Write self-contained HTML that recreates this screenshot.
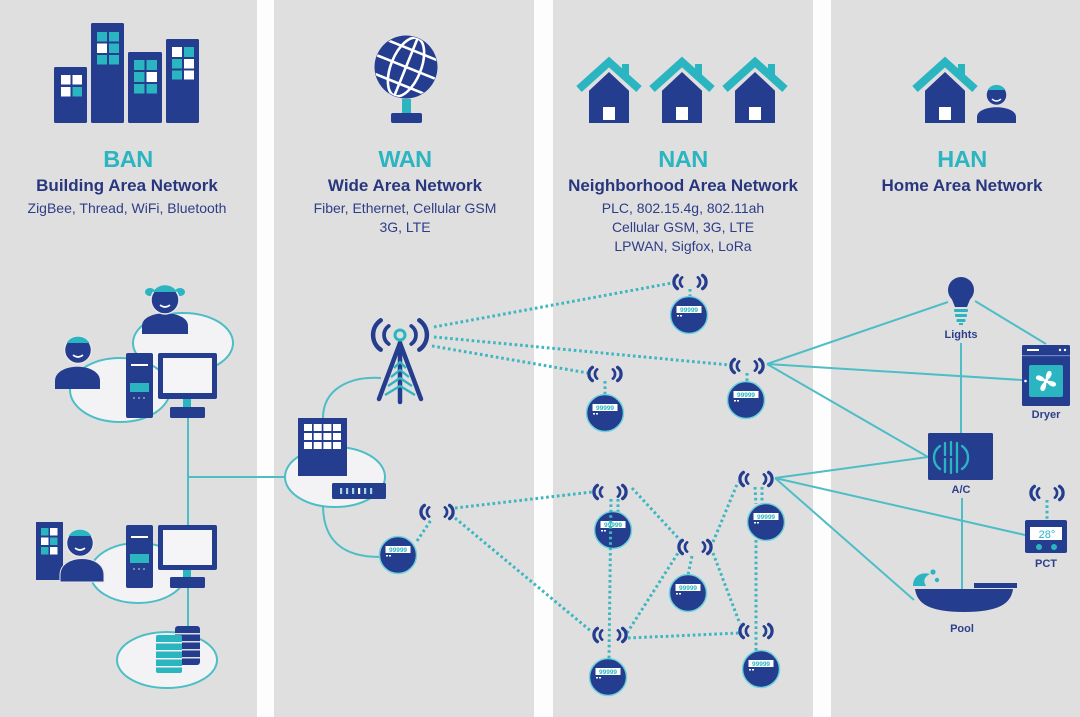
<!DOCTYPE html>
<html><head><meta charset="utf-8">
<style>
html,body{margin:0;padding:0;background:#fff;}
svg{display:block;}
text{font-family:"Liberation Sans",sans-serif;}
</style></head>
<body>
<svg width="1080" height="717" viewBox="0 0 1080 717" xmlns="http://www.w3.org/2000/svg">
<rect x="0" y="0" width="1080" height="717" fill="#fdfdfd"/>
<rect x="0" y="0" width="257" height="717" fill="#e0dfe0"/>
<rect x="274" y="0" width="260" height="717" fill="#e0dfe0"/>
<rect x="553" y="0" width="260" height="717" fill="#e0dfe0"/>
<rect x="831" y="0" width="249" height="717" fill="#e0dfe0"/>

<!-- ===== HEADERS ===== -->
<!-- BAN buildings -->
<g fill="#243d8f">
<rect x="54" y="67" width="33" height="56" rx="1.5"/>
<rect x="91" y="23" width="33" height="100" rx="1.5"/>
<rect x="128" y="52" width="34" height="71" rx="1.5"/>
<rect x="166" y="39" width="33" height="84" rx="1.5"/>
</g>
<g>
<rect x="61" y="75" width="9.5" height="9.5" fill="#fff"/><rect x="72.5" y="75" width="9.5" height="9.5" fill="#fff"/>
<rect x="61" y="87" width="9.5" height="9.5" fill="#fff"/><rect x="72.5" y="87" width="9.5" height="9.5" fill="#2bb5c1"/>
<rect x="97" y="32" width="10" height="9.5" fill="#2bb5c1"/><rect x="109" y="32" width="10" height="9.5" fill="#2bb5c1"/>
<rect x="97" y="43.5" width="10" height="9.5" fill="#fff"/><rect x="109" y="43.5" width="10" height="9.5" fill="#2bb5c1"/>
<rect x="97" y="55" width="10" height="9.5" fill="#2bb5c1"/><rect x="109" y="55" width="10" height="9.5" fill="#2bb5c1"/>
<rect x="134" y="60" width="10.5" height="10" fill="#2bb5c1"/><rect x="146.5" y="60" width="10.5" height="10" fill="#2bb5c1"/>
<rect x="134" y="72" width="10.5" height="10" fill="#2bb5c1"/><rect x="146.5" y="72" width="10.5" height="10" fill="#fff"/>
<rect x="134" y="84" width="10.5" height="9.5" fill="#2bb5c1"/><rect x="146.5" y="84" width="10.5" height="9.5" fill="#2bb5c1"/>
<rect x="172" y="47" width="10" height="10" fill="#fff"/><rect x="184" y="47" width="10" height="10" fill="#2bb5c1"/>
<rect x="172" y="59" width="10" height="9.5" fill="#2bb5c1"/><rect x="184" y="59" width="10" height="9.5" fill="#fff"/>
<rect x="172" y="70.5" width="10" height="9" fill="#2bb5c1"/><rect x="184" y="70.5" width="10" height="9" fill="#fff"/>
</g>

<!-- WAN globe -->
<defs><clipPath id="gc"><circle cx="406" cy="67" r="31"/></clipPath></defs>
<circle cx="406" cy="67" r="31.5" fill="#243d8f"/>
<g clip-path="url(#gc)" stroke="#fff" stroke-width="2.6" fill="none">
<g transform="rotate(22 406 67)">
<ellipse cx="406" cy="67" rx="15" ry="31"/>
<line x1="406" y1="34" x2="406" y2="100"/>
<line x1="370" y1="49" x2="442" y2="49"/>
<line x1="370" y1="67" x2="442" y2="67"/>
<line x1="370" y1="85" x2="442" y2="85"/>
</g>
</g>
<rect x="402" y="99" width="9" height="15" fill="#2bb5c1"/>
<rect x="391" y="113" width="31" height="10" rx="2" fill="#243d8f"/>

<!-- NAN houses -->
<g id="h1">
<polyline points="579,89 609,62 639,89" fill="none" stroke="#2bb5c1" stroke-width="8" stroke-linejoin="miter"/>
<rect x="622" y="64" width="7" height="14" fill="#2bb5c1"/>
<polygon points="589,123 589,90.7 609,72 629,90.7 629,123" fill="#243d8f"/>
<rect x="603" y="107" width="12" height="13" fill="#fff"/>
</g>
<g>
<polyline points="652,89 682,62 712,89" fill="none" stroke="#2bb5c1" stroke-width="8"/>
<rect x="695" y="64" width="7" height="14" fill="#2bb5c1"/>
<polygon points="662,123 662,90.7 682,72 702,90.7 702,123" fill="#243d8f"/>
<rect x="676" y="107" width="12" height="13" fill="#fff"/>
</g>
<g>
<polyline points="725,89 755,62 785,89" fill="none" stroke="#2bb5c1" stroke-width="8"/>
<rect x="768" y="64" width="7" height="14" fill="#2bb5c1"/>
<polygon points="735,123 735,90.7 755,72 775,90.7 775,123" fill="#243d8f"/>
<rect x="749" y="107" width="12" height="13" fill="#fff"/>
</g>
<!-- HAN house + person -->
<g>
<polyline points="915,89 945,62 975,89" fill="none" stroke="#2bb5c1" stroke-width="8"/>
<rect x="958" y="64" width="7" height="14" fill="#2bb5c1"/>
<polygon points="925,123 925,90.7 945,72 965,90.7 965,123" fill="#243d8f"/>
<rect x="939" y="107" width="12" height="13" fill="#fff"/>
</g>
<path d="M977,123 L977,117 C977,104 1016,104 1016,117 L1016,123 Z" fill="#243d8f"/>
<circle cx="996.5" cy="95" r="10.5" fill="#243d8f" stroke="#e0dfe0" stroke-width="1.5"/>
<path d="M987.5,90 A10.5,10.5 0 0 1 1005.5,90 Z" fill="#2bb5c1"/>
<path d="M992,99 Q996.5,103 1001,99" fill="none" stroke="#fff" stroke-width="1.5"/>

<!-- Header text -->
<g text-anchor="middle">
<text x="128" y="167" font-size="23.5" font-weight="bold" fill="#2bb5c1" letter-spacing="-0.5">BAN</text>
<text x="127" y="191" font-size="17" font-weight="bold" fill="#28377d">Building Area Network</text>
<text x="127" y="213" font-size="14" fill="#2e3d85">ZigBee, Thread, WiFi, Bluetooth</text>

<text x="405" y="167" font-size="23.5" font-weight="bold" fill="#2bb5c1" letter-spacing="-0.5">WAN</text>
<text x="405" y="191" font-size="17" font-weight="bold" fill="#28377d">Wide Area Network</text>
<text x="405" y="213" font-size="14" fill="#2e3d85">Fiber, Ethernet, Cellular GSM</text>
<text x="405" y="232" font-size="14" fill="#2e3d85">3G, LTE</text>

<text x="683" y="167" font-size="23.5" font-weight="bold" fill="#2bb5c1" letter-spacing="-0.5">NAN</text>
<text x="683" y="191" font-size="17" font-weight="bold" fill="#28377d">Neighborhood Area Network</text>
<text x="683" y="213" font-size="14" fill="#2e3d85">PLC, 802.15.4g, 802.11ah</text>
<text x="683" y="232" font-size="14" fill="#2e3d85">Cellular GSM, 3G, LTE</text>
<text x="683" y="251" font-size="14" fill="#2e3d85">LPWAN, Sigfox, LoRa</text>

<text x="962" y="167" font-size="23.5" font-weight="bold" fill="#2bb5c1" letter-spacing="-0.5">HAN</text>
<text x="962" y="191" font-size="17" font-weight="bold" fill="#28377d">Home Area Network</text>
</g>

<!-- ===== BAN diagram ===== -->
<g stroke="#4dbdc6" stroke-width="2" fill="none">
<line x1="188" y1="418" x2="188" y2="525"/>
<line x1="188" y1="477" x2="286" y2="477"/>
<line x1="188" y1="588" x2="188" y2="628"/>
</g>
<g fill="#f3f3f5" stroke="#4dbdc6" stroke-width="2">
<ellipse cx="183" cy="343" rx="50" ry="30"/>
<ellipse cx="120" cy="390" rx="50" ry="32"/>
<ellipse cx="138" cy="573" rx="48" ry="30"/>
<ellipse cx="167" cy="660" rx="50" ry="28"/>
</g>
<!-- girl top -->
<path d="M142,334 L142,326 C142,309 188,309 188,326 L188,334 Z" fill="#243d8f"/>
<ellipse cx="150" cy="292" rx="5" ry="4" fill="#2bb5c1"/>
<ellipse cx="180" cy="292" rx="5" ry="4" fill="#2bb5c1"/>
<circle cx="165" cy="300" r="14" fill="#243d8f" stroke="#e8e8ea" stroke-width="1.5"/>
<path d="M153,292 A14,14 0 0 1 177,292 Z" fill="#2bb5c1"/>
<path d="M160,305 Q165,309 170,305" fill="none" stroke="#fff" stroke-width="1.6"/>
<!-- person left -->
<path d="M55,389 L55,381 C55,362 100,362 100,381 L100,389 Z" fill="#243d8f"/>
<circle cx="78" cy="350" r="13.5" fill="#243d8f" stroke="#e8e8ea" stroke-width="1.5"/>
<path d="M66.5,343 A13.5,13.5 0 0 1 89.5,343 Z" fill="#2bb5c1"/>
<path d="M73,355 Q78,359 83,355" fill="none" stroke="#fff" stroke-width="1.6"/>
<!-- computer top -->
<rect x="126" y="353" width="27" height="65" rx="2" fill="#243d8f"/>
<rect x="131" y="364" width="17" height="2" fill="#fff"/>
<rect x="130" y="383" width="19" height="9" fill="#2bb5c1"/>
<g fill="#8ab"><circle cx="134" cy="398" r="1"/><circle cx="139" cy="398" r="1"/><circle cx="144" cy="398" r="1"/></g>
<rect x="158" y="353" width="59" height="46" rx="2" fill="#243d8f"/>
<rect x="163" y="358" width="49" height="35" fill="#f5f5f7"/>
<rect x="183" y="399" width="8" height="8" fill="#2bb5c1"/>
<rect x="170" y="407" width="35" height="11" rx="1.5" fill="#243d8f"/>
<!-- lower group -->
<rect x="36" y="522" width="27" height="58" fill="#243d8f"/>
<rect x="41" y="528" width="7.5" height="7.5" fill="#2bb5c1"/><rect x="50" y="528" width="7.5" height="7.5" fill="#fff"/>
<rect x="41" y="537.5" width="7.5" height="7.5" fill="#fff"/><rect x="50" y="537.5" width="7.5" height="7.5" fill="#2bb5c1"/>
<rect x="41" y="547" width="7.5" height="7.5" fill="#2bb5c1"/><rect x="50" y="547" width="7.5" height="7.5" fill="#fff"/>
<path d="M60,582 L60,575 C60,553 104,553 104,575 L104,582 Z" fill="#243d8f" stroke="#e8e8ea" stroke-width="1"/>
<circle cx="80" cy="543" r="13.5" fill="#243d8f" stroke="#e8e8ea" stroke-width="1.5"/>
<path d="M68.5,536 A13.5,13.5 0 0 1 91.5,536 Z" fill="#2bb5c1"/>
<path d="M75,548 Q80,552 85,548" fill="none" stroke="#fff" stroke-width="1.6"/>
<rect x="126" y="525" width="27" height="63" rx="2" fill="#243d8f"/>
<rect x="131" y="536" width="17" height="2" fill="#fff"/>
<rect x="130" y="554" width="19" height="9" fill="#2bb5c1"/>
<g fill="#8ab"><circle cx="134" cy="569" r="1"/><circle cx="139" cy="569" r="1"/><circle cx="144" cy="569" r="1"/></g>
<rect x="158" y="525" width="59" height="45" rx="2" fill="#243d8f"/>
<rect x="163" y="530" width="49" height="35" fill="#f5f5f7"/>
<rect x="183" y="570" width="8" height="7" fill="#2bb5c1"/>
<rect x="170" y="577" width="35" height="11" rx="1.5" fill="#243d8f"/>
<!-- servers -->
<rect x="175" y="626" width="25" height="39" rx="3" fill="#243d8f"/>
<g fill="#e0dfe0"><rect x="175" y="633" width="25" height="1.5"/><rect x="175" y="641" width="25" height="1.5"/><rect x="175" y="649" width="25" height="1.5"/><rect x="175" y="657" width="25" height="1.5"/></g>
<rect x="156" y="635" width="26" height="38" rx="2" fill="#2bb5c1"/>
<g fill="#f3f3f5"><rect x="156" y="642" width="26" height="1.5"/><rect x="156" y="650" width="26" height="1.5"/><rect x="156" y="658" width="26" height="1.5"/><rect x="156" y="666" width="26" height="1.5"/></g>

<!-- ===== WAN diagram ===== -->
<g stroke="#4dbdc6" stroke-width="2" fill="none">
<path d="M381,378 C348,376 323,390 323,418"/>
<path d="M323,505 C323,540 342,557 380,557"/>
</g>
<ellipse cx="335" cy="477" rx="50" ry="30" fill="#f3f3f5" stroke="#4dbdc6" stroke-width="2"/>
<rect x="298" y="418" width="49" height="58" fill="#243d8f"/>
<g fill="#fff">
<rect x="304" y="424" width="8" height="7"/><rect x="313.7" y="424" width="8" height="7"/><rect x="323.4" y="424" width="8" height="7"/><rect x="333" y="424" width="8" height="7"/>
<rect x="304" y="433" width="8" height="7"/><rect x="313.7" y="433" width="8" height="7"/><rect x="323.4" y="433" width="8" height="7"/><rect x="333" y="433" width="8" height="7"/>
<rect x="304" y="442" width="8" height="7"/><rect x="313.7" y="442" width="8" height="7"/><rect x="323.4" y="442" width="8" height="7"/><rect x="333" y="442" width="8" height="7"/>
</g>
<rect x="332" y="483" width="54" height="16" rx="1.5" fill="#243d8f"/>
<g fill="#9fd8e0"><rect x="340" y="488" width="2.2" height="6"/><rect x="346" y="488" width="2.2" height="6"/><rect x="352" y="488" width="2.2" height="6"/><rect x="358" y="488" width="2.2" height="6" fill="#fff"/><rect x="364" y="488" width="2.2" height="6"/><rect x="370" y="488" width="2.2" height="6"/></g>

<!-- Tower -->
<g stroke="#243d8f" stroke-width="4.5" stroke-linecap="round" fill="none">
<line x1="400" y1="343" x2="379" y2="399"/>
<line x1="400" y1="343" x2="421" y2="399"/>
<line x1="400" y1="343" x2="400" y2="402"/>
</g>
<g stroke="#2bb5c1" stroke-width="2.3" fill="none">
<polyline points="394,368 400,362 406,368"/>
<polyline points="391,377 400,370 409,377"/>
<polyline points="388,386 400,378 412,386"/>
<polyline points="385,395 400,386 415,395"/>
</g>
<circle cx="400" cy="335" r="5" fill="#e0dfe0" stroke="#2bb5c1" stroke-width="3"/>
<g transform="translate(400,335)" fill="none" stroke="#243d8f" stroke-linecap="round">
<path d="M-19.3,-14.7 A18,18 0 0 0 -19.3,14.7" stroke-width="4.5"/>
<path d="M-11.3,-9 A11,11 0 0 0 -11.3,9" stroke-width="3.8"/>
<path d="M19.3,-14.7 A18,18 0 0 1 19.3,14.7" stroke-width="4.5"/>
<path d="M11.3,-9 A11,11 0 0 1 11.3,9" stroke-width="3.8"/>
</g>

<!-- ===== Dotted connections ===== -->
<g stroke="#3cb6bf" stroke-width="3" stroke-dasharray="2.6 2.8" fill="none">
<line x1="434" y1="327" x2="672" y2="283"/>
<line x1="434" y1="337" x2="729" y2="365"/>
<line x1="432" y1="346" x2="588" y2="373"/>
<line x1="690" y1="289" x2="690" y2="297"/>
<line x1="605" y1="381" x2="605" y2="395"/>
<line x1="747" y1="373" x2="747" y2="382"/>
<line x1="417" y1="541" x2="431" y2="520"/>
<line x1="455" y1="508" x2="592" y2="492"/>
<line x1="455" y1="518" x2="592" y2="632"/>
<line x1="632" y1="488" x2="680" y2="540"/>
<line x1="627" y1="633" x2="678" y2="553"/>
<line x1="628" y1="638" x2="740" y2="633"/>
<line x1="713" y1="542" x2="738" y2="482"/>
<line x1="713" y1="553" x2="740" y2="624"/>
<line x1="692" y1="556" x2="688" y2="575"/>
<line x1="618" y1="499" x2="618" y2="512"/>
<line x1="755" y1="487" x2="756" y2="504"/>
<line x1="762" y1="487" x2="762" y2="504"/>
<line x1="1047" y1="500" x2="1047" y2="520"/>
</g>

<!-- ===== Solid HAN lines ===== -->
<g stroke="#4dbdc6" stroke-width="2" fill="none">
<line x1="767" y1="364" x2="948" y2="302"/>
<line x1="767" y1="364" x2="1022" y2="380"/>
<line x1="767" y1="364" x2="928" y2="457"/>
<line x1="775" y1="478" x2="928" y2="457"/>
<line x1="775" y1="478" x2="1025" y2="535"/>
<line x1="775" y1="478" x2="914" y2="600"/>
<line x1="975" y1="301" x2="1046" y2="344"/>
<line x1="961" y1="343" x2="961" y2="433"/>
<line x1="962" y1="498" x2="962" y2="589"/>
</g>

<!-- ===== Meters ===== -->
<g font-size="6.5" font-weight="bold" text-anchor="middle">
<g transform="translate(398,555)"><circle r="18.5" fill="#243d8f" stroke="#6fd3dd" stroke-width="1.5"/><rect x="-12.5" y="-9" width="25" height="7" fill="#fff"/><text x="0" y="-3.2" fill="#2bb5c1">99999</text><rect x="-12" y="0" width="2" height="1.5" fill="#fff"/><rect x="-9" y="0" width="2" height="1.5" fill="#fff"/></g>
<g transform="translate(689,315)"><circle r="18.5" fill="#243d8f" stroke="#6fd3dd" stroke-width="1.5"/><rect x="-12.5" y="-9" width="25" height="7" fill="#fff"/><text x="0" y="-3.2" fill="#2bb5c1">99999</text><rect x="-12" y="0" width="2" height="1.5" fill="#fff"/><rect x="-9" y="0" width="2" height="1.5" fill="#fff"/></g>
<g transform="translate(605,413)"><circle r="18.5" fill="#243d8f" stroke="#6fd3dd" stroke-width="1.5"/><rect x="-12.5" y="-9" width="25" height="7" fill="#fff"/><text x="0" y="-3.2" fill="#2bb5c1">99999</text><rect x="-12" y="0" width="2" height="1.5" fill="#fff"/><rect x="-9" y="0" width="2" height="1.5" fill="#fff"/></g>
<g transform="translate(746,400)"><circle r="18.5" fill="#243d8f" stroke="#6fd3dd" stroke-width="1.5"/><rect x="-12.5" y="-9" width="25" height="7" fill="#fff"/><text x="0" y="-3.2" fill="#2bb5c1">99999</text><rect x="-12" y="0" width="2" height="1.5" fill="#fff"/><rect x="-9" y="0" width="2" height="1.5" fill="#fff"/></g>
<g transform="translate(613,530)"><circle r="18.5" fill="#243d8f" stroke="#6fd3dd" stroke-width="1.5"/><rect x="-12.5" y="-9" width="25" height="7" fill="#fff"/><text x="0" y="-3.2" fill="#2bb5c1">99999</text><rect x="-12" y="0" width="2" height="1.5" fill="#fff"/><rect x="-9" y="0" width="2" height="1.5" fill="#fff"/></g>
<g transform="translate(608,677)"><circle r="18.5" fill="#243d8f" stroke="#6fd3dd" stroke-width="1.5"/><rect x="-12.5" y="-9" width="25" height="7" fill="#fff"/><text x="0" y="-3.2" fill="#2bb5c1">99999</text><rect x="-12" y="0" width="2" height="1.5" fill="#fff"/><rect x="-9" y="0" width="2" height="1.5" fill="#fff"/></g>
<g transform="translate(688,593)"><circle r="18.5" fill="#243d8f" stroke="#6fd3dd" stroke-width="1.5"/><rect x="-12.5" y="-9" width="25" height="7" fill="#fff"/><text x="0" y="-3.2" fill="#2bb5c1">99999</text><rect x="-12" y="0" width="2" height="1.5" fill="#fff"/><rect x="-9" y="0" width="2" height="1.5" fill="#fff"/></g>
<g transform="translate(766,522)"><circle r="18.5" fill="#243d8f" stroke="#6fd3dd" stroke-width="1.5"/><rect x="-12.5" y="-9" width="25" height="7" fill="#fff"/><text x="0" y="-3.2" fill="#2bb5c1">99999</text><rect x="-12" y="0" width="2" height="1.5" fill="#fff"/><rect x="-9" y="0" width="2" height="1.5" fill="#fff"/></g>
<g transform="translate(761,669)"><circle r="18.5" fill="#243d8f" stroke="#6fd3dd" stroke-width="1.5"/><rect x="-12.5" y="-9" width="25" height="7" fill="#fff"/><text x="0" y="-3.2" fill="#2bb5c1">99999</text><rect x="-12" y="0" width="2" height="1.5" fill="#fff"/><rect x="-9" y="0" width="2" height="1.5" fill="#fff"/></g>
</g>

<!-- dotted lines drawn over meters -->
<g stroke="#3cb6bf" stroke-width="3" stroke-dasharray="2.6 2.8" fill="none">
<line x1="611" y1="499" x2="609" y2="659"/>
<line x1="756" y1="540" x2="756" y2="651"/>
</g>

<!-- ===== Wireless nodes ===== -->
<g fill="none" stroke="#243d8f" stroke-linecap="round">
<g transform="translate(690,282)"><path d="M-12.6,-6.6 A8,8 0 0 0 -12.6,6.6" stroke-width="3.3"/><path d="M-7.9,-4.6 A6,6 0 0 0 -7.9,4.6" stroke-width="2.7"/><path d="M12.6,-6.6 A8,8 0 0 1 12.6,6.6" stroke-width="3.3"/><path d="M7.9,-4.6 A6,6 0 0 1 7.9,4.6" stroke-width="2.7"/></g>
<g transform="translate(605,374)"><path d="M-12.6,-6.6 A8,8 0 0 0 -12.6,6.6" stroke-width="3.3"/><path d="M-7.9,-4.6 A6,6 0 0 0 -7.9,4.6" stroke-width="2.7"/><path d="M12.6,-6.6 A8,8 0 0 1 12.6,6.6" stroke-width="3.3"/><path d="M7.9,-4.6 A6,6 0 0 1 7.9,4.6" stroke-width="2.7"/></g>
<g transform="translate(747,366)"><path d="M-12.6,-6.6 A8,8 0 0 0 -12.6,6.6" stroke-width="3.3"/><path d="M-7.9,-4.6 A6,6 0 0 0 -7.9,4.6" stroke-width="2.7"/><path d="M12.6,-6.6 A8,8 0 0 1 12.6,6.6" stroke-width="3.3"/><path d="M7.9,-4.6 A6,6 0 0 1 7.9,4.6" stroke-width="2.7"/></g>
<g transform="translate(437,512)"><path d="M-12.6,-6.6 A8,8 0 0 0 -12.6,6.6" stroke-width="3.3"/><path d="M-7.9,-4.6 A6,6 0 0 0 -7.9,4.6" stroke-width="2.7"/><path d="M12.6,-6.6 A8,8 0 0 1 12.6,6.6" stroke-width="3.3"/><path d="M7.9,-4.6 A6,6 0 0 1 7.9,4.6" stroke-width="2.7"/></g>
<g transform="translate(610,492)"><path d="M-12.6,-6.6 A8,8 0 0 0 -12.6,6.6" stroke-width="3.3"/><path d="M-7.9,-4.6 A6,6 0 0 0 -7.9,4.6" stroke-width="2.7"/><path d="M12.6,-6.6 A8,8 0 0 1 12.6,6.6" stroke-width="3.3"/><path d="M7.9,-4.6 A6,6 0 0 1 7.9,4.6" stroke-width="2.7"/></g>
<g transform="translate(610,635)"><path d="M-12.6,-6.6 A8,8 0 0 0 -12.6,6.6" stroke-width="3.3"/><path d="M-7.9,-4.6 A6,6 0 0 0 -7.9,4.6" stroke-width="2.7"/><path d="M12.6,-6.6 A8,8 0 0 1 12.6,6.6" stroke-width="3.3"/><path d="M7.9,-4.6 A6,6 0 0 1 7.9,4.6" stroke-width="2.7"/></g>
<g transform="translate(695,547)"><path d="M-12.6,-6.6 A8,8 0 0 0 -12.6,6.6" stroke-width="3.3"/><path d="M-7.9,-4.6 A6,6 0 0 0 -7.9,4.6" stroke-width="2.7"/><path d="M12.6,-6.6 A8,8 0 0 1 12.6,6.6" stroke-width="3.3"/><path d="M7.9,-4.6 A6,6 0 0 1 7.9,4.6" stroke-width="2.7"/></g>
<g transform="translate(756,479)"><path d="M-12.6,-6.6 A8,8 0 0 0 -12.6,6.6" stroke-width="3.3"/><path d="M-7.9,-4.6 A6,6 0 0 0 -7.9,4.6" stroke-width="2.7"/><path d="M12.6,-6.6 A8,8 0 0 1 12.6,6.6" stroke-width="3.3"/><path d="M7.9,-4.6 A6,6 0 0 1 7.9,4.6" stroke-width="2.7"/></g>
<g transform="translate(756,631)"><path d="M-12.6,-6.6 A8,8 0 0 0 -12.6,6.6" stroke-width="3.3"/><path d="M-7.9,-4.6 A6,6 0 0 0 -7.9,4.6" stroke-width="2.7"/><path d="M12.6,-6.6 A8,8 0 0 1 12.6,6.6" stroke-width="3.3"/><path d="M7.9,-4.6 A6,6 0 0 1 7.9,4.6" stroke-width="2.7"/></g>
<g transform="translate(1047,493)"><path d="M-12.6,-6.6 A8,8 0 0 0 -12.6,6.6" stroke-width="3.3"/><path d="M-7.9,-4.6 A6,6 0 0 0 -7.9,4.6" stroke-width="2.7"/><path d="M12.6,-6.6 A8,8 0 0 1 12.6,6.6" stroke-width="3.3"/><path d="M7.9,-4.6 A6,6 0 0 1 7.9,4.6" stroke-width="2.7"/></g>
</g>

<!-- ===== HAN devices ===== -->
<!-- bulb -->
<circle cx="961" cy="290" r="13" fill="#243d8f"/>
<path d="M951,297 L971,297 L967,307 L955,307 Z" fill="#243d8f"/>
<g fill="#2bb5c1">
<rect x="954" y="309" width="14" height="3" rx="1"/>
<rect x="955" y="314" width="12" height="3" rx="1"/>
<rect x="956.5" y="319" width="9" height="3" rx="1"/>
<rect x="959" y="323" width="4" height="2"/>
</g>
<!-- dryer -->
<rect x="1022" y="345" width="48" height="61" rx="1.5" fill="#243d8f"/>
<rect x="1022" y="355" width="48" height="1.2" fill="#6f86c4"/>
<rect x="1027" y="349" width="12" height="2" fill="#fff"/>
<circle cx="1060" cy="350" r="1.2" fill="#fff"/><circle cx="1065" cy="350" r="1.2" fill="#fff"/>
<rect x="1029" y="365" width="34" height="32" rx="2" fill="#2bb5c1"/>
<circle cx="1025.5" cy="381" r="1.3" fill="#fff"/>
<g fill="#fff" transform="translate(1046,381)">
<path d="M0,0 C-2,-4 -8,-8 -10,-4 C-11,-1 -5,1 0,0 Z"/>
<path d="M0,0 C4,-2 8,-8 4,-10 C1,-11 -1,-5 0,0 Z"/>
<path d="M0,0 C2,4 8,8 10,4 C11,1 5,-1 0,0 Z"/>
<path d="M0,0 C-4,2 -8,8 -4,10 C-1,11 1,5 0,0 Z"/>
<circle r="2"/>
</g>
<!-- A/C -->
<rect x="928" y="433" width="65" height="47" rx="1.5" fill="#243d8f"/>
<g fill="none" stroke="#2bb5c1" stroke-width="2.3" stroke-linecap="round">
<path d="M940,446 A14,14 0 0 0 940,469"/>
<path d="M962,446 A14,14 0 0 1 962,469"/>
<line x1="945" y1="443" x2="945" y2="455"/><line x1="945" y1="459" x2="945" y2="472"/>
<line x1="951" y1="442" x2="951" y2="455"/><line x1="951" y1="459" x2="951" y2="473"/>
<line x1="957" y1="443" x2="957" y2="472"/>
</g>
<!-- PCT -->
<rect x="1025" y="520" width="42" height="33" rx="2" fill="#243d8f"/>
<rect x="1030" y="527" width="32" height="13" fill="#fff"/>
<text x="1047" y="538" font-size="11" fill="#2bb5c1" text-anchor="middle">28°</text>
<circle cx="1039" cy="547" r="3" fill="#2bb5c1"/><circle cx="1054" cy="547" r="3" fill="#2bb5c1"/>
<!-- Pool -->
<rect x="974" y="583" width="43" height="5" fill="#243d8f"/>
<path d="M915,589 L1013,589 C1011,604 998,612 964,612 C930,612 917,604 915,589 Z" fill="#243d8f"/>
<path d="M913,586 C913,575 922,572 930,574 C924,577 923,581 926,586 Z" fill="#2bb5c1"/>
<circle cx="933" cy="572" r="2.6" fill="#2bb5c1"/>
<circle cx="937" cy="580" r="2.2" fill="#2bb5c1"/>

<!-- HAN labels -->
<g font-size="11" font-weight="bold" fill="#2d3f8a" text-anchor="middle">
<text x="961" y="338">Lights</text>
<text x="1046" y="418">Dryer</text>
<text x="961" y="493">A/C</text>
<text x="1046" y="567">PCT</text>
<text x="962" y="632">Pool</text>
</g>
</svg>
</body></html>
